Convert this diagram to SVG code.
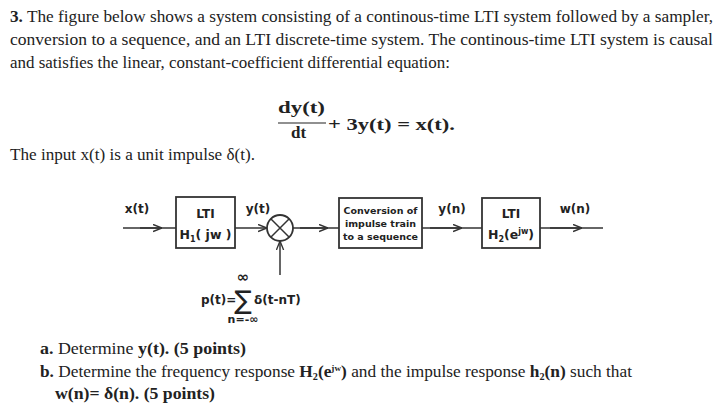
<svg xmlns="http://www.w3.org/2000/svg" width="715" height="408" viewBox="0 0 715 408">
<defs>
<style>
.t{font-family:"Liberation Serif",serif;font-size:17px;fill:#222}
.b{font-weight:bold}
.d{font-family:"DejaVu Sans",sans-serif;font-weight:bold;fill:#222}
.ln{stroke:#333;stroke-width:1.5;fill:none}
.bx{stroke:#333;stroke-width:1.8;fill:#fff}
</style>
<marker id="a" viewBox="0 0 10 10" refX="10" refY="5" markerWidth="9" markerHeight="9" orient="auto" markerUnits="userSpaceOnUse"><path d="M0,1 L10,5 L0,9" fill="none" stroke="#333" stroke-width="1.5"/></marker>
</defs>
<rect width="715" height="408" fill="#fff"/>
<text class="t" x="10" y="22" textLength="703" lengthAdjust="spacingAndGlyphs"><tspan class="b">3.</tspan> The figure below shows a system consisting of a continous-time LTI system followed by a sampler,</text>
<text class="t" x="10" y="45" textLength="703" lengthAdjust="spacingAndGlyphs">conversion to a sequence, and an LTI discrete-time system. The continous-time LTI system is causal</text>
<text class="t" x="10" y="68" textLength="440" lengthAdjust="spacingAndGlyphs">and satisfies the linear, constant-coefficient differential equation:</text>
<text class="t b" x="278" y="113" textLength="47" lengthAdjust="spacingAndGlyphs">dy(t)</text>
<line x1="278" y1="123" x2="326" y2="123" stroke="#222" stroke-width="1.2"/>
<text class="t b" x="291" y="138">dt</text>
<text class="t b" x="328" y="130" textLength="127" lengthAdjust="spacingAndGlyphs">+ 3y(t) = x(t).</text>
<text class="t" x="10" y="160" textLength="245" lengthAdjust="spacingAndGlyphs">The input x(t) is a unit impulse δ(t).</text>
<g id="connectors">
<line class="ln" x1="123" y1="228" x2="176" y2="228"/><line class="ln" x1="140" y1="228" x2="162" y2="228" marker-end="url(#a)"/>
<line class="ln" x1="235" y1="228" x2="267" y2="228" marker-end="url(#a)"/>
<line class="ln" x1="280" y1="275" x2="280" y2="241" marker-end="url(#a)"/>
<line class="ln" x1="293" y1="228" x2="339" y2="228"/><line class="ln" x1="300" y1="228" x2="328" y2="228" marker-end="url(#a)"/>
<line class="ln" x1="422" y1="228" x2="482" y2="228"/><line class="ln" x1="430" y1="228" x2="462" y2="228" marker-end="url(#a)"/>
<line class="ln" x1="540" y1="228" x2="603" y2="228"/><line class="ln" x1="550" y1="228" x2="582" y2="228" marker-end="url(#a)"/>
</g>
<g id="lti1"><rect class="bx" x="176" y="197" width="59" height="51"/>
<text class="d" x="205.5" y="218" font-size="12" text-anchor="middle">LTI</text>
<text class="d" x="205.5" y="239" font-size="12.5" text-anchor="middle">H<tspan font-size="8" dy="3">1</tspan><tspan dy="-3">( jw )</tspan></text></g>
<g id="mult"><circle cx="280" cy="228" r="13" fill="#fff" stroke="#333" stroke-width="1.8"/>
<path d="M271,219 L289,237 M289,219 L271,237" stroke="#333" stroke-width="1.5"/></g>
<g id="conv"><rect class="bx" x="339" y="198" width="83" height="50"/>
<text class="d" font-size="9.5" x="380.5" text-anchor="middle"><tspan x="380.5" y="214">Conversion of</tspan><tspan x="380.5" y="227">impulse train</tspan><tspan x="380.5" y="240">to a sequence</tspan></text></g>
<g id="lti2"><rect class="bx" x="482" y="198" width="58" height="50"/>
<text class="d" x="511" y="218" font-size="12" text-anchor="middle">LTI</text>
<text class="d" x="511" y="239" font-size="12.5" text-anchor="middle">H<tspan font-size="8" dy="3">2</tspan><tspan dy="-3">(e</tspan><tspan font-size="8" dy="-5">jw</tspan><tspan dy="5">)</tspan></text></g>
<g id="labels">
<text class="d" x="137" y="213" font-size="12" text-anchor="middle">x(t)</text>
<text class="d" x="258" y="213" font-size="12" text-anchor="middle">y(t)</text>
<text class="d" x="452" y="213" font-size="12" text-anchor="middle">y(n)</text>
<text class="d" x="575" y="213" font-size="12" text-anchor="middle">w(n)</text>
<text class="d" x="201" y="304" font-size="12">p(t)=</text>
<text x="243" y="309" font-size="26" text-anchor="middle" font-family="DejaVu Sans, sans-serif" fill="#222">∑</text>
<text class="d" x="243" y="282" font-size="15" text-anchor="middle">∞</text>
<text class="d" x="243" y="323" font-size="11" text-anchor="middle">n=-∞</text>
<text class="d" x="254" y="304" font-size="12">δ(t-nT)</text>
</g>
<text class="t" x="40" y="354" textLength="206" lengthAdjust="spacingAndGlyphs"><tspan class="b">a.</tspan> Determine <tspan class="b">y(t). (5 points)</tspan></text>
<text class="t" x="40" y="377" textLength="592" lengthAdjust="spacingAndGlyphs"><tspan class="b">b.</tspan> Determine the frequency response <tspan class="b">H<tspan font-size="10" dy="3">2</tspan><tspan dy="-3">(e</tspan><tspan font-size="9" dy="-6">jw</tspan><tspan dy="6">)</tspan></tspan> and the impulse response <tspan class="b">h<tspan font-size="10" dy="3">2</tspan><tspan dy="-3">(n)</tspan></tspan> such that</text>
<text class="t b" x="55" y="399" textLength="160" lengthAdjust="spacingAndGlyphs">w(n)= δ(n). (5 points)</text>
</svg>
